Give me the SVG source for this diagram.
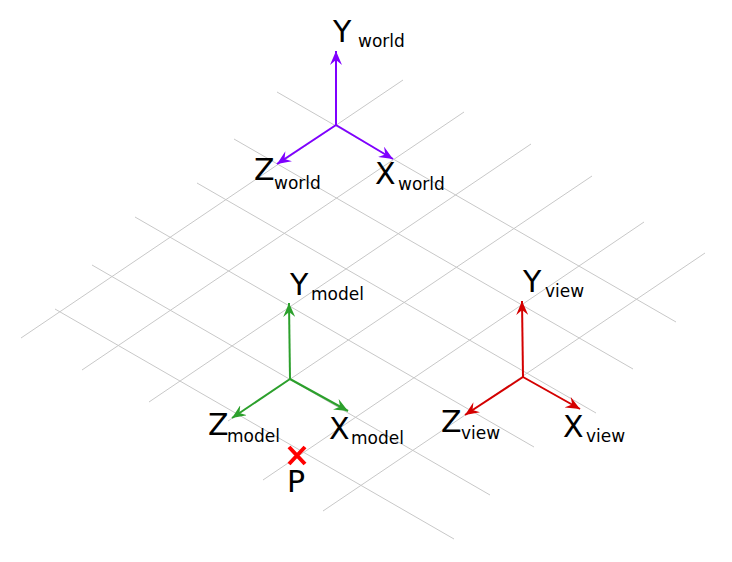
<svg xmlns="http://www.w3.org/2000/svg" width="732" height="562" viewBox="0 0 732 562">
<style>
.g{stroke:#c8c8c8;stroke-width:1;fill:none}
.ax{stroke-width:2;fill:none}
.t{font-family:"DejaVu Sans",sans-serif;fill:#000}
.b{font-size:30px}.s{font-size:17px}
</style>
<defs>
<marker id="mw" viewBox="-14 -6 16 12" markerWidth="16" markerHeight="12" refX="0" refY="0" orient="auto" markerUnits="userSpaceOnUse"><path d="M0,0 L-14,-6 L-9,0 L-14,6 Z" fill="#7f00ff"/></marker>
<marker id="mm" viewBox="-14 -6 16 12" markerWidth="16" markerHeight="12" refX="0" refY="0" orient="auto" markerUnits="userSpaceOnUse"><path d="M0,0 L-14,-6 L-9,0 L-14,6 Z" fill="#2ca02c"/></marker>
<marker id="mv" viewBox="-14 -6 16 12" markerWidth="16" markerHeight="12" refX="0" refY="0" orient="auto" markerUnits="userSpaceOnUse"><path d="M0,0 L-14,-6 L-9,0 L-14,6 Z" fill="#d40000"/></marker>
</defs>
<g id="grid" class="g">
<line x1="277" y1="92" x2="676" y2="322"/>
<line x1="234" y1="139" x2="633" y2="369"/>
<line x1="197" y1="183" x2="596" y2="413"/>
<line x1="135" y1="217" x2="534" y2="447"/>
<line x1="92" y1="265" x2="490" y2="495"/>
<line x1="55" y1="309" x2="454" y2="539"/>
<line x1="403" y1="80" x2="21" y2="338"/>
<line x1="464" y1="112" x2="82" y2="370"/>
<line x1="531" y1="144" x2="149" y2="402"/>
<line x1="592" y1="176" x2="228" y2="421"/>
<line x1="644" y1="222" x2="263" y2="480"/>
<line x1="705" y1="253" x2="323" y2="511"/>
</g>
<g id="connectors">
<g stroke="#7f00ff" class="ax">
<line x1="336" y1="125" x2="336" y2="51" marker-end="url(#mw)"/>
<line x1="336" y1="125" x2="277" y2="164" marker-end="url(#mw)"/>
<line x1="336" y1="125" x2="393" y2="159" marker-end="url(#mw)"/>
</g>
<g stroke="#2ca02c" class="ax">
<line x1="290" y1="379" x2="289" y2="303" marker-end="url(#mm)"/>
<line x1="290" y1="379" x2="232" y2="418" marker-end="url(#mm)"/>
<line x1="290" y1="379" x2="348" y2="411" marker-end="url(#mm)"/>
</g>
<g stroke="#d40000" class="ax">
<line x1="523" y1="377" x2="522" y2="301" marker-end="url(#mv)"/>
<line x1="523" y1="377" x2="465" y2="415" marker-end="url(#mv)"/>
<line x1="523" y1="377" x2="580" y2="409" marker-end="url(#mv)"/>
</g>
</g>
<g id="world-labels" class="t">
<text class="b" x="333" y="42">Y</text><text class="s" x="358" y="47">world</text>
<text class="b" x="254" y="180">Z</text><text class="s" x="274" y="189">world</text>
<text class="b" x="375" y="184">X</text><text class="s" x="398" y="190">world</text>
</g>
<g id="model-labels" class="t">
<text class="b" x="290" y="295">Y</text><text class="s" x="311" y="300">model</text>
<text class="b" x="208" y="435">Z</text><text class="s" x="227" y="442">model</text>
<text class="b" x="329" y="439">X</text><text class="s" x="351" y="444">model</text>
</g>
<g id="view-labels" class="t">
<text class="b" x="523" y="292">Y</text><text class="s" x="545" y="297">view</text>
<text class="b" x="441" y="432">Z</text><text class="s" x="461" y="439">view</text>
<text class="b" x="563" y="437">X</text><text class="s" x="586" y="442">view</text>
</g>
<g id="point-P">
<path d="M289,447 L305,464 M305,447 L289,464" stroke="#ff0000" stroke-width="4"/>
<text class="t b" x="287" y="492">P</text>
</g>
</svg>
